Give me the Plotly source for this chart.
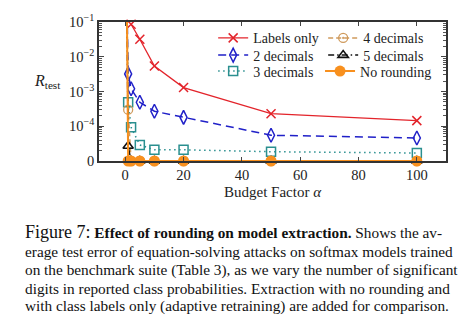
import plotly.graph_objects as go

# ---- data ----
alpha = [0.5, 1, 2, 5, 10, 20, 50, 100]
alpha_labels = [2, 5, 10, 20, 50, 100]
labels_only = [0.086, 0.032, 0.0054, 0.0013, 2.3e-4, 1.45e-4]
dec2 = [1.0, 3.2e-3, 1.2e-3, 4.9e-4, 2.7e-4, 1.8e-4, 5.5e-5, 4.6e-5]
dec3 = [1.0, 4.9e-4, 9.3e-5, 2.9e-5, 2.1e-5, 2.1e-5, 1.85e-5, 1.7e-5]
dec4 = [1.0, 3.0e-4, 0, 0, 0, 0, 0, 0]
dec5 = [1.0, 2.7e-5, 0, 0, 0, 0, 0, 0]
no_round = [1.0, 0, 0, 0, 0, 0, 0, 0]

x_ticks = [0, 20, 40, 60, 80, 100]
y_tickvals = [1e-5, 1e-4, 1e-3, 1e-2, 1e-1]
y_ticktext = ["0", "10<sup>\u22124</sup>", "10<sup>\u22123</sup>",
              "10<sup>\u22122</sup>", "10<sup>\u22121</sup>"]
ZERO = 1e-5  # value at which "0" is drawn on the log axis


def show(vals):
    return [v if v > 0 else ZERO for v in vals]


SERIF = "Liberation Serif, Times New Roman, serif"
RED = "#e3242b"
BLUE = "#2020c8"
TEAL = "#2a8f8f"
TAN = "#cf9a5c"
BLACK = "#111111"
ORANGE = "#f8901e"

fig = go.Figure()

fig.add_trace(go.Scatter(
    x=alpha_labels, y=labels_only, name="Labels only", mode="lines+markers",
    line=dict(color=RED, width=1.3),
    marker=dict(symbol="x-thin", size=9, line=dict(color=RED, width=1.5)),
    legend="legend", showlegend=True, cliponaxis=False))
fig.add_trace(go.Scatter(
    x=alpha, y=show(dec2), name="2 decimals", mode="lines+markers",
    line=dict(color=BLUE, width=1.5, dash="8px,5px"),
    marker=dict(symbol="diamond-tall-open", size=10, color=BLUE, line=dict(width=1.5)),
    legend="legend2", showlegend=True, cliponaxis=False))
fig.add_trace(go.Scatter(
    x=alpha, y=show(dec3), name="3 decimals", mode="lines+markers",
    line=dict(color=TEAL, width=1.5, dash="1.5px,3.5px"),
    marker=dict(symbol="square-open", size=9, color=TEAL, line=dict(width=1.5)),
    legend="legend3", showlegend=True, cliponaxis=False))
fig.add_trace(go.Scatter(
    x=alpha, y=show(dec4), name="4 decimals", mode="lines+markers",
    line=dict(color=TAN, width=1.5, dash="5px,3px"),
    marker=dict(symbol="circle-open-dot", size=9, color=TAN, line=dict(width=1.3)),
    legend="legend4", showlegend=True, cliponaxis=False))
fig.add_trace(go.Scatter(
    x=alpha, y=show(dec5), name="5 decimals", mode="lines+markers",
    line=dict(color=BLACK, width=1.5, dash="6px,3px,1.5px,3px"),
    marker=dict(symbol="triangle-up-open", size=9, color=BLACK, line=dict(width=1.6)),
    legend="legend5", showlegend=True, cliponaxis=False))
fig.add_trace(go.Scatter(
    x=alpha, y=show(no_round), name="No rounding", mode="lines+markers",
    line=dict(color=ORANGE, width=2),
    marker=dict(symbol="circle", size=11, color=ORANGE),
    legend="legend6", showlegend=True, cliponaxis=False))

minor_vals = [k * 10 ** e for e in range(-5, -1) for k in range(2, 10)]


def leg(col_x, row_center_px):
    return dict(x=col_x, y=(161 - row_center_px) / 139,
                xanchor="left", yanchor="middle", bgcolor="rgba(0,0,0,0)",
                font=dict(family=SERIF, size=14, color="#222"))


col1, col2 = 0.329, 0.646
rows = [38.3, 55.5, 71.5]

fig.update_layout(
    width=474, height=322,
    showlegend=True,
    margin=dict(l=99, r=28, t=22, b=161, autoexpand=False),
    paper_bgcolor="white", plot_bgcolor="white",
    font=dict(family=SERIF, size=14, color="#222"),
    xaxis=dict(
        range=[-9, 110], tickvals=x_ticks, ticks="inside", ticklen=4,
        tickcolor="#444", tickwidth=1, showgrid=False, zeroline=False,
        showline=True, linecolor="#333", linewidth=1.5, mirror="ticks",
        tickfont=dict(family=SERIF, size=14.5, color="#222"),
        title=dict(text="Budget Factor <i>\u03b1</i>", font=dict(family=SERIF, size=15, color="#222"),
                   standoff=4),
    ),
    yaxis=dict(
        type="log", range=[-5, -1], tickvals=y_tickvals, ticktext=y_ticktext,
        ticks="inside", ticklen=5, tickcolor="#444", tickwidth=1,
        showgrid=False, zeroline=False, showline=True, linecolor="#333",
        linewidth=1.5, mirror="allticks",
        tickfont=dict(family=SERIF, size=14.5, color="#222"),
        minor=dict(tickvals=minor_vals, ticks="inside", ticklen=3,
                   tickcolor="#555", tickwidth=1, showgrid=False),
    ),
    legend=leg(col1, rows[0]),
    legend2=leg(col1, rows[1]),
    legend3=leg(col1, rows[2]),
    legend4=leg(col2, rows[0]),
    legend5=leg(col2, rows[1]),
    legend6=leg(col2 - 0.009, rows[2]),
)

# y-axis label
fig.add_annotation(text="<i>R</i><sub>test</sub>", xref="paper", yref="paper",
                   x=(47 - 99) / 347, y=(161 - 81) / 139, showarrow=False,
                   xanchor="center", yanchor="middle",
                   font=dict(family=SERIF, size=16, color="#222"))

# caption
caption = [
    "<span style='font-size:18px'>Figure 7:</span> <b>Effect of rounding on model extraction.</b> Shows the av-",
    "erage test error of equation-solving attacks on softmax models trained",
    "on the benchmark suite (Table 3), as we vary the number of significant",
    "digits in reported class probabilities. Extraction with no rounding and",
    "with class labels only (adaptive retraining) are added for comparison.",
]
line_y = [232, 251.5, 270, 288, 306]
for txt, yy in zip(caption, line_y):
    fig.add_annotation(text=txt, xref="paper", yref="paper",
                       x=(22.5 - 99) / 347, y=(161 - yy) / 139, showarrow=False,
                       xanchor="left", yanchor="middle", align="left",
                       font=dict(family=SERIF, size=15.3, color="#111"))

fig.write_html("out.html")
